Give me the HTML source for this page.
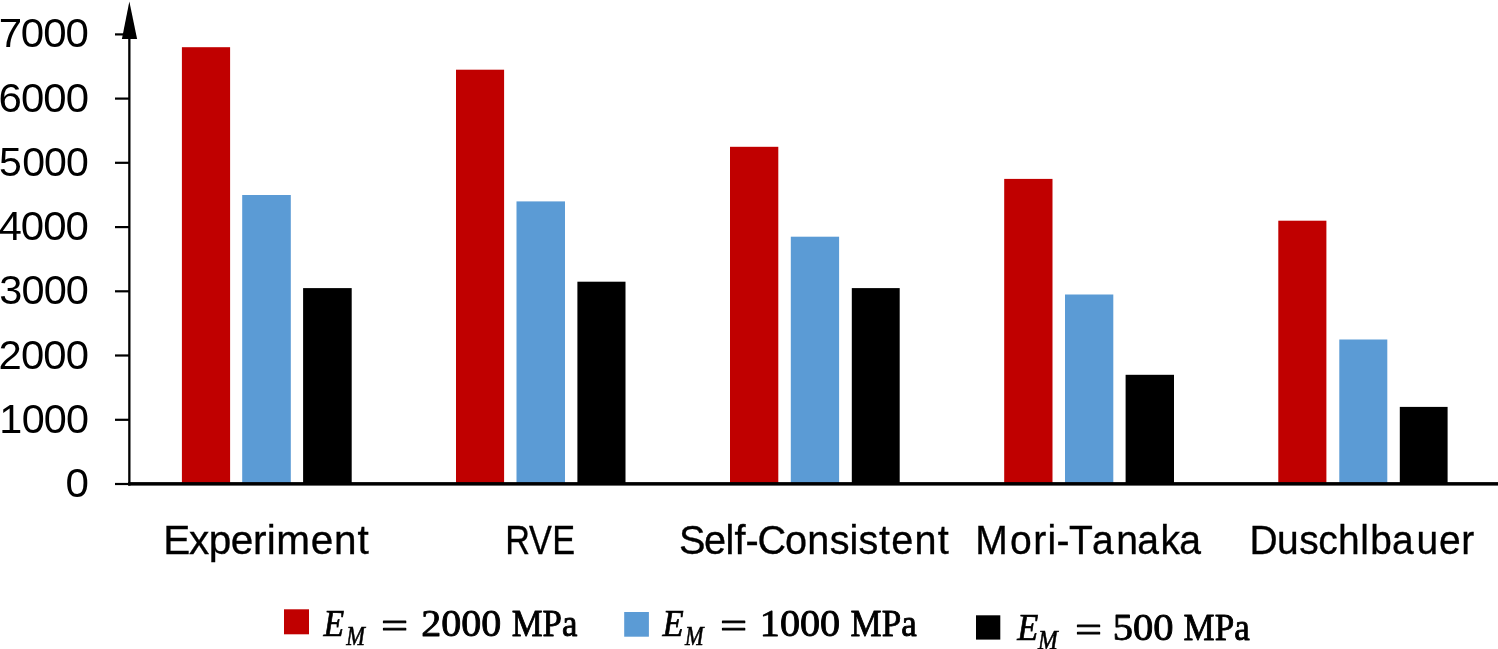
<!DOCTYPE html>
<html lang="en">
<head>
<meta charset="utf-8">
<title>Bar chart</title>
<style>
html,body{margin:0;padding:0;background:#fff;}
body{width:1498px;height:649px;overflow:hidden;}
svg{display:block;}
text{font-kerning:none;fill:#000;}
.tick,.cat{font-family:"Liberation Sans",sans-serif;font-size:41.5px;}
.cat{stroke:#000;stroke-width:0.35px;}
.leg{font-family:"Liberation Serif",serif;font-size:37.0px;stroke:#000;stroke-width:0.85px;stroke-linejoin:round;}
.legi{font-family:"Liberation Serif",serif;font-style:italic;font-size:37.0px;stroke:#000;stroke-width:0.7px;}
.legs{font-family:"Liberation Serif",serif;font-style:italic;font-size:27.0px;stroke:#000;stroke-width:0.6px;}
.eq{stroke-width:1.1px;}
</style>
</head>
<body>
<svg width="1498" height="649" viewBox="0 0 1498 649">
<rect x="0" y="0" width="1498" height="649" fill="#ffffff"/>
<rect x="181.9" y="47.2" width="48.2" height="436.3" fill="#c00000"/>
<rect x="242.2" y="195.0" width="48.6" height="288.5" fill="#5b9bd5"/>
<rect x="303.1" y="288.1" width="48.6" height="195.4" fill="#000000"/>
<rect x="456.0" y="69.7" width="48.1" height="413.8" fill="#c00000"/>
<rect x="516.5" y="201.4" width="48.5" height="282.1" fill="#5b9bd5"/>
<rect x="577.4" y="281.7" width="48.1" height="201.8" fill="#000000"/>
<rect x="730.0" y="146.8" width="48.3" height="336.7" fill="#c00000"/>
<rect x="790.8" y="236.7" width="48.3" height="246.8" fill="#5b9bd5"/>
<rect x="851.8" y="288.1" width="47.9" height="195.4" fill="#000000"/>
<rect x="1004.2" y="178.9" width="48.3" height="304.6" fill="#c00000"/>
<rect x="1065.0" y="294.5" width="48.3" height="189.0" fill="#5b9bd5"/>
<rect x="1125.6" y="374.8" width="48.4" height="108.7" fill="#000000"/>
<rect x="1278.3" y="220.7" width="48.1" height="262.8" fill="#c00000"/>
<rect x="1339.3" y="339.5" width="48.0" height="144.0" fill="#5b9bd5"/>
<rect x="1399.8" y="406.9" width="47.8" height="76.6" fill="#000000"/>
<rect x="128.2" y="30" width="2.3" height="455.6" fill="#000"/>
<rect x="128.2" y="482.1" width="1369.8" height="3.5" fill="#000"/>
<polygon points="129.35,1.6 137.1,38.9 121.9,38.9" fill="#000"/>
<rect x="115" y="482.9" width="14" height="2.2" fill="#000"/>
<text class="tick" transform="translate(0,497.10) scale(1.0157,1)" x="64.49" y="0">0</text>
<rect x="115" y="418.7" width="14" height="2.2" fill="#000"/>
<text class="tick" transform="translate(0,432.87) scale(0.9957,1)" x="-0.66 21.84 43.99 66.21" y="0">1000</text>
<rect x="115" y="354.4" width="14" height="2.2" fill="#000"/>
<text class="tick" transform="translate(0,368.64) scale(1.0076,1)" x="-1.43 20.91 43.03 65.17" y="0">2000</text>
<rect x="115" y="290.2" width="14" height="2.2" fill="#000"/>
<text class="tick" transform="translate(0,304.41) scale(0.9995,1)" x="-0.86 21.54 43.69 65.88" y="0">3000</text>
<rect x="115" y="226.0" width="14" height="2.2" fill="#000"/>
<text class="tick" transform="translate(0,240.18) scale(1.0121,1)" x="-1.51 20.58 42.68 64.80" y="0">4000</text>
<rect x="115" y="161.7" width="14" height="2.2" fill="#000"/>
<text class="tick" transform="translate(0,175.95) scale(0.9883,1)" x="-0.99 22.42 44.60 66.86" y="0">5000</text>
<rect x="115" y="97.5" width="14" height="2.2" fill="#000"/>
<text class="tick" transform="translate(0,111.72) scale(1.0089,1)" x="-1.45 20.82 42.93 65.07" y="0">6000</text>
<rect x="115" y="33.3" width="14" height="2.2" fill="#000"/>
<text class="tick" transform="translate(0,47.49) scale(1.0123,1)" x="-1.34 20.56 42.66 64.78" y="0">7000</text>
<text class="cat" transform="translate(0,554.10) scale(0.9762,1)" x="167.21 193.61 213.91 236.30 259.24 273.18 283.05 318.22 342.12 366.30" y="0">Experiment</text>
<text class="cat" transform="translate(0,554.10) scale(0.8257,1)" x="611.84 640.71 668.69" y="0">RVE</text>
<text class="cat" transform="translate(0,554.10) scale(0.9542,1)" x="711.57 737.74 760.44 769.74 781.20 793.89 822.82 846.12 869.63 890.16 899.77 921.19 933.96 958.28 982.89" y="0">Self-Consistent</text>
<text class="cat" transform="translate(0,554.10) scale(0.9412,1)" x="1036.06 1073.01 1097.91 1112.87 1122.42 1135.75 1160.35 1185.94 1208.24 1232.98 1252.95" y="0">Mori-Tanaka</text>
<text class="cat" transform="translate(0,554.10) scale(0.9380,1)" x="1332.01 1361.47 1385.16 1405.53 1426.39 1450.22 1460.72 1483.91 1510.16 1534.00 1557.72" y="0">Duschlbauer</text>
<rect x="284" y="609.3" width="25" height="25" fill="#c00000"/>
<text class="legi" transform="translate(323.60,635.60) scale(0.9136,1)">E</text>
<text class="legs" transform="translate(346.16,644.50) scale(0.8317,1)">M</text>
<text class="leg eq" transform="translate(381.15,637.75) scale(1.2778,0.94)">=</text>
<text class="leg" transform="translate(421.34,635.60) scale(1.0808,1)">2000</text>
<text class="leg" transform="translate(511.70,635.60) scale(0.9396,1)">MPa</text>
<rect x="624.2" y="612" width="24.7" height="24.7" fill="#5b9bd5"/>
<text class="legi" transform="translate(662.61,635.90) scale(0.9359,1)">E</text>
<text class="legs" transform="translate(685.06,644.80) scale(0.8276,1)">M</text>
<text class="leg eq" transform="translate(720.25,638.05) scale(1.2778,0.94)">=</text>
<text class="leg" transform="translate(759.87,635.90) scale(1.0845,1)">1000</text>
<text class="leg" transform="translate(850.59,635.90) scale(0.9455,1)">MPa</text>
<rect x="976" y="615.3" width="24.3" height="24.3" fill="#000"/>
<text class="legi" transform="translate(1017.30,640.00) scale(0.9314,1)">E</text>
<text class="legs" transform="translate(1037.98,648.90) scale(0.8775,1)">M</text>
<text class="leg eq" transform="translate(1075.26,642.15) scale(1.2720,0.94)">=</text>
<text class="leg" transform="translate(1112.84,640.00) scale(1.0955,1)">500</text>
<text class="leg" transform="translate(1183.59,640.00) scale(0.9455,1)">MPa</text>
</svg>
</body>
</html>
